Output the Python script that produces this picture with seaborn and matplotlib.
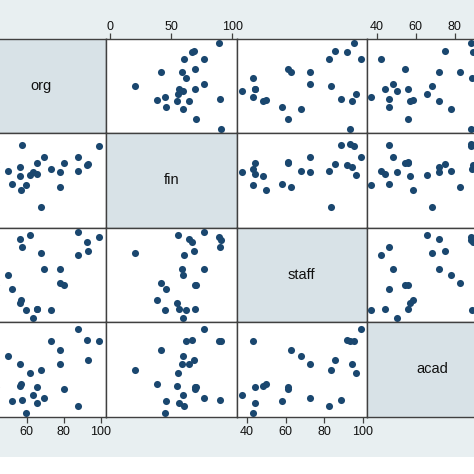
import matplotlib
matplotlib.use("Agg")
import pandas as pd
import matplotlib.pyplot as plt
import seaborn as sns
from matplotlib.patches import Rectangle

variables = ["org", "fin", "staff", "acad"]
org = [67.5, 56.9, 77.9, 59.6, 52.0, 56.2, 65.5, 61.6, 63.6, 77.9, 50.2, 87.8,
       73.2, 56.2, 92.7, 93.2, 79.9, 65.5, 43.3, 87.8, 69.2, 99.1, 57.7, 35.4]
fin = [20.4, 38.7, 42.0, 44.7, 45.8, 55.0, 56.7, 55.9, 59.4, 58.9, 60.0, 60.8,
       62.4, 64.6, 66.8, 68.7, 69.8, 69.8, 70.1, 76.6, 76.6, 88.9, 89.7, 90.5]
staff = [83.7, 50.1, 62.8, 43.0, 58.1, 48.2, 44.3, 96.6, 37.3, 72.8, 68.0, 82.7,
         43.1, 94.4, 91.6, 85.8, 61.4, 44.3, 61.1, 99.2, 72.8, 95.6, 88.6, 93.5]
acad = [68.2, 58.5, 82.6, 37.3, 46.3, 57.1, 44.4, 65.8, 50.3, 72.0, 77.9, 42.3,
        88.7, 72.0, 89.4, 75.0, 54.3, 56.1, 55.9, 97.1, 48.5, 88.6, 46.5, 88.6]

df = pd.DataFrame({"org": org, "fin": fin, "staff": staff, "acad": acad})

# axis ranges and the ticks that show inside the crop
limits = {"org": (32.5, 102.7), "fin": (-3.3, 103.3),
          "staff": (34.6, 102.2), "acad": (35.0, 102.0)}
ticks = {"org": [60, 80, 100], "fin": [0, 50, 100],
         "staff": [40, 60, 80, 100], "acad": [40, 60, 80]}

bg = "#E8EFF1"
diag_fill = "#D8E2E7"
navy = "#1A476F"
line_col = "#404040"

sns.set_theme(style="white")
plt.rcParams["font.family"] = ["Liberation Sans", "DejaVu Sans"]

g = sns.PairGrid(df, vars=variables, despine=False, height=1.2)
g.map_offdiag(sns.scatterplot, color=navy, s=26, linewidth=0)

fig = g.figure
fig.set_size_inches(4.74, 4.74)
fig.set_facecolor(bg)

# panel layout in pixels (the picture is a crop, first column runs off the left)
col_edges = [-24.5, 106, 236.5, 367, 497.5]
row_edges = [38.5, 133.05, 227.6, 322.15, 416.7]
W = H = 474

for i in range(4):
    for j in range(4):
        ax = g.axes[i, j]
        x0, x1 = col_edges[j], col_edges[j + 1]
        y0, y1 = row_edges[i], row_edges[i + 1]
        ax.set_position([x0 / W, 1 - y1 / H, (x1 - x0) / W, (y1 - y0) / H])
        ax.set_xlabel("")
        ax.set_ylabel("")
        ax.tick_params(axis="both", which="both", bottom=False, top=False,
                       left=False, right=False, labelbottom=False,
                       labeltop=False, labelleft=False, labelright=False)
        for sp in ax.spines.values():
            sp.set_color(line_col)
            sp.set_linewidth(1.0)
        if i == j:
            ax.set_facecolor(diag_fill)
            ax.text(0.5, 0.5, variables[i], transform=ax.transAxes,
                    ha="center", va="center", fontsize=10.5, color="#111111")
        else:
            ax.set_facecolor("white")

for j, var in enumerate(variables):
    g.axes[0, j].set_xlim(limits[var])
    g.axes[0, j].set_xticks(ticks[var])
    g.axes[j, 0].set_ylim(limits[var])

# Stata-style alternating axis sides
for j in range(4):
    if j % 2 == 0:
        g.axes[3, j].tick_params(axis="x", bottom=True, labelbottom=True,
                                 length=4, width=0.9, color=line_col,
                                 labelsize=9, labelcolor="#111111", pad=2.5)
    else:
        g.axes[0, j].tick_params(axis="x", top=True, labeltop=True,
                                 length=4, width=0.9, color=line_col,
                                 labelsize=9, labelcolor="#111111", pad=0)

fig.add_artist(Rectangle((0, 0), 1, 17 / H, transform=fig.transFigure,
                         facecolor="white", edgecolor="none", zorder=-1))

fig.savefig("out.png", dpi=100, facecolor=bg)
